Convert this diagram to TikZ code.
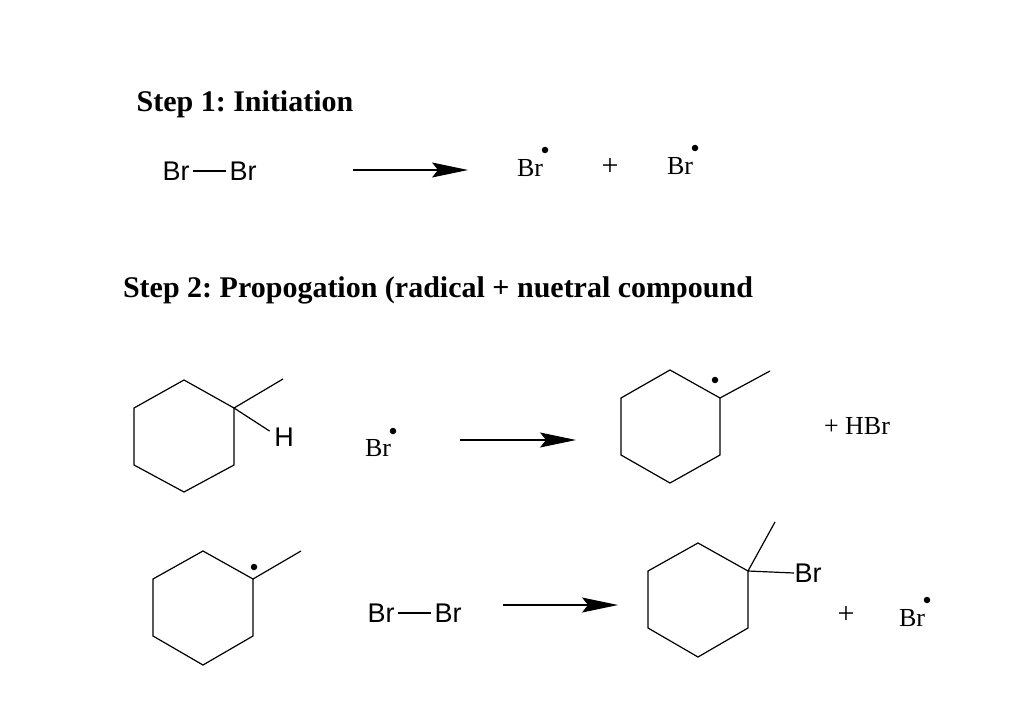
\documentclass[tikz,border=0pt]{standalone}
\usepackage{fontspec}
\setmainfont{Liberation Serif}
\newfontfamily\arialf{Liberation Sans}
\usetikzlibrary{arrows.meta}
\frenchspacing
\begin{document}
\begin{tikzpicture}[x=1pt,y=-1pt,line width=1.2pt,
 sans/.style={font=\arialf\fontsize{27}{27}\selectfont,inner sep=0pt},
 ser/.style={font=\fontsize{26}{26}\selectfont,inner sep=0pt},
 ttl/.style={font=\bfseries\fontsize{30}{30}\selectfont,inner sep=0pt},
 rxn/.style={-{Stealth[length=36pt,width=15pt,inset=6pt]},line width=1.2pt},
 rad/.style={circle,fill,inner sep=0pt,minimum size=6.5pt}]
\useasboundingbox (0,0) rectangle (1024,703);
% Step 1
\node[ttl] (t1) at (245,104) {Step 1: Initiation};
\node[sans] (b1) at (176,171) {Br};
\node[sans] (b2) at (243,171) {Br};
\draw ([xshift=3]b1.east) -- ([xshift=-3]b2.west);
\coordinate (a1s) at (353,170); \coordinate (a1e) at (468,170);
\draw[rxn] (a1s) -- (a1e);
\node[ser] (r1) at (530,168) {Br}; \node[rad] (d1) at (545,150) {};
\node[ser,font=\fontsize{30}{30}\selectfont] (p1) at (610,167) {+};
\node[ser] (r2) at (680,166) {Br}; \node[rad] (d2) at (695,148) {};
% Step 2
\node[ttl] (t2) at (438,290) {Step 2: Propogation (radical + nuetral compound};
% ring 1
\draw (184,380) -- (234,408) coordinate (q1) -- (234,465) -- (184,492) -- (134,465) -- (134,408) -- cycle;
\coordinate (m1) at (283,379); \draw (q1) -- (m1);
\node[sans] (H) at (284,437) {H};
\draw (q1) -- ([xshift=-4,yshift=-4]H.north west);
\node[ser] (r3) at (378,448) {Br}; \node[rad] (d3) at (393,431) {};
\coordinate (a2s) at (460,440); \coordinate (a2e) at (576,440);
\draw[rxn] (a2s) -- (a2e);
% ring 2
\draw (670,370) -- (720,398) coordinate (q2) -- (720,455) -- (670,483) -- (621,455) -- (621,398) -- cycle;
\coordinate (m2) at (770,371); \draw (q2) -- (m2);
\node[rad] (d4) at (715,380) {};
\node[ser] (hbr) at (857,426) {+ HBr};
% ring 3
\draw (203,551) -- (253,579) coordinate (q3) -- (253,636) -- (203,665) -- (153,636) -- (153,579) -- cycle;
\coordinate (m3) at (301,551); \draw (q3) -- (m3);
\node[rad] (d5) at (254,567) {};
\node[sans] (b3) at (381,613) {Br};
\node[sans] (b4) at (448,613) {Br};
\draw ([xshift=3]b3.east) -- ([xshift=-3]b4.west);
\coordinate (a3s) at (503,605); \coordinate (a3e) at (618,605);
\draw[rxn] (a3s) -- (a3e);
% ring 4
\draw (698,543) -- (748,571) coordinate (q4) -- (748,628) -- (698,657) -- (648,628) -- (648,571) -- cycle;
\coordinate (m4) at (775,522); \draw (q4) -- (m4);
\node[sans] (b5) at (808,573) {Br};
\draw (q4) -- (b5.west);
\node[ser,font=\fontsize{30}{30}\selectfont] (p2) at (846,615) {+};
\node[ser] (r4) at (912,618) {Br}; \node[rad] (d6) at (927,600) {};
\end{tikzpicture}
\end{document}
